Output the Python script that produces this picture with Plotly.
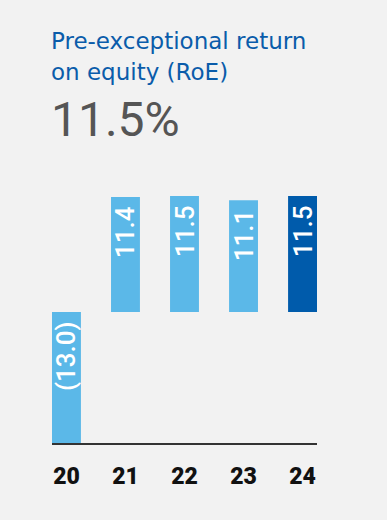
import plotly.graph_objects as go

years = ["20", "21", "22", "23", "24"]
values = [-13.0, 11.4, 11.5, 11.1, 11.5]
colors = ["#5bb8e8", "#5bb8e8", "#5bb8e8", "#5bb8e8", "#005bab"]
title_lines = ["Pre-exceptional return", "on equity (RoE)"]
headline = "11.5%"

NBSP = "\u00a0"


def fmt(v):
    return f"({abs(v):.1f})" if v < 0 else f"{v:.1f}"


labels = [fmt(v) + NBSP for v in values]

neg = [i for i, v in enumerate(values) if v < 0]
pos = [i for i, v in enumerate(values) if v >= 0]

fig = go.Figure()
label_font = dict(family="Roboto", size=26, color="white", weight=500)
for idx, anchor in ((neg, "start"), (pos, "end")):
    fig.add_bar(
        x=[years[i] for i in idx],
        y=[values[i] for i in idx],
        marker=dict(color=[colors[i] for i in idx], line=dict(width=0)),
        text=[labels[i] for i in idx],
        textposition="inside",
        insidetextanchor=anchor,
        textangle=-90,
        constraintext="none",
        textfont=label_font,
        width=0.49,
        hoverinfo="skip",
    )

fig.add_annotation(text=title_lines[0], xref="paper", yref="paper", x=0, y=1,
                   xanchor="left", yanchor="middle", xshift=-3, yshift=140,
                   showarrow=False,
                   font=dict(family="DejaVu Sans", size=23, color="#0a5caa"))
fig.add_annotation(text=title_lines[1], xref="paper", yref="paper", x=0, y=1,
                   xanchor="left", yanchor="middle", xshift=-3, yshift=109,
                   showarrow=False,
                   font=dict(family="DejaVu Sans", size=23, color="#0a5caa"))
fig.add_annotation(text=headline, xref="paper", yref="paper", x=0, y=1,
                   xanchor="left", yanchor="middle", xshift=-3, yshift=62,
                   showarrow=False,
                   font=dict(family="Roboto", size=48, color="#555555"))

fig.update_layout(
    width=387, height=520,
    margin=dict(l=52, r=70, t=181, b=77),
    paper_bgcolor="#f2f2f2", plot_bgcolor="#f2f2f2",
    barmode="overlay",
    showlegend=False,
    xaxis=dict(type="category", range=[-0.245, 4.245], showgrid=False,
               zeroline=False, showline=True, linecolor="#333333", linewidth=1.5,
               ticks="", ticklabelstandoff=12,
               tickfont=dict(family="Roboto", size=23, color="#111111", weight=900),
               fixedrange=True),
    yaxis=dict(range=[-13.0, 13.0], showgrid=False, zeroline=False,
               showticklabels=False, ticks="", showline=False, fixedrange=True),
)

fig.write_html("out.html")
